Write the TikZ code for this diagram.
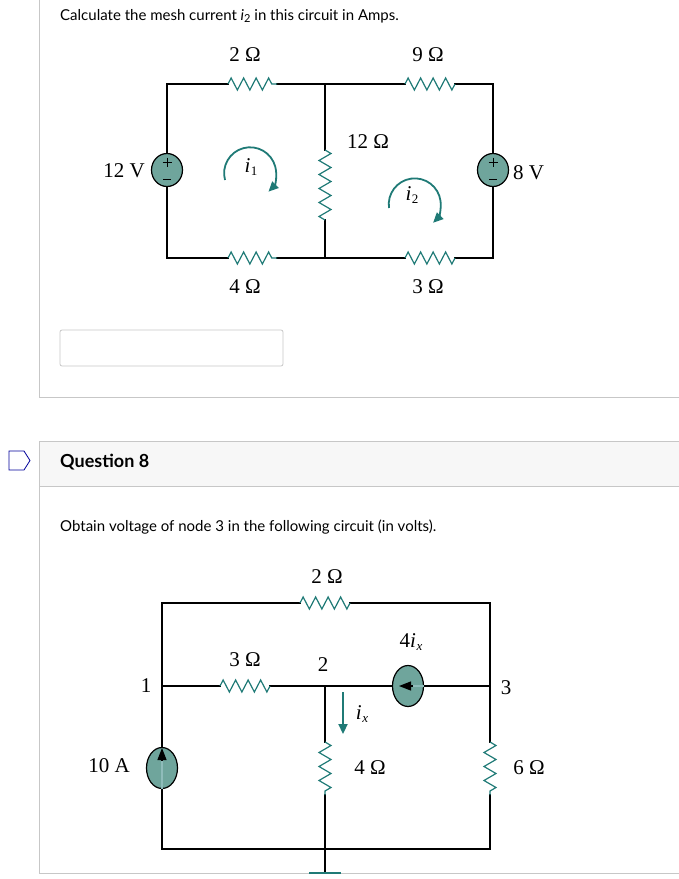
\documentclass[tikz,border=0pt]{standalone}
\usepackage{fontspec}
\setmainfont{Liberation Serif}
\newfontfamily\uisans{Lato}
\usetikzlibrary{positioning,calc,decorations.pathmorphing,arrows.meta,shapes.geometric}
\definecolor{srcteal}{HTML}{6FA59C}
\definecolor{arrteal}{HTML}{1F7A76}
\definecolor{rule}{HTML}{C7C7C7}
\newcommand{\vi}[1]{\textit{i}\kern.5pt\raisebox{-.35ex}{\fontsize{13}{13}\selectfont#1}}
\begin{document}
\begin{tikzpicture}[x=1pt,y=-1pt,
    wire/.style = {line width=1.5pt,line cap=rect},
    res/.style = {draw=arrteal,line width=1.2pt,decorate,decoration={zigzag,segment length=12.5,amplitude=6}},
    src/.style = {ellipse,draw,line width=1.2pt,fill=srcteal,minimum width=31,minimum height=36,inner sep=0pt},
    lab/.style = {font=\fontsize{21}{21}\selectfont,inner sep=1pt},
    txt/.style = {font=\uisans\fontsize{15}{16}\selectfont,anchor=west,inner sep=0pt},
    mesh/.style = {draw=arrteal,line width=1.8pt,-{Triangle[length=10pt,width=9pt]}},
    tip/.style = {-{Triangle[length=12pt,width=9pt]},line width=1.2pt,shorten >=-1pt},
    ]
    \useasboundingbox (0,0) rectangle (679,879);
    % page frame
    \draw[rule,line width=1pt] (39,0) -- (39,397) -- (679,397);
    \draw[rule,line width=1pt,fill=gray!6] (39,441) rectangle (690,486);
    \draw[rule,line width=1pt] (39,486) -- (39,873) -- (679,873);
    \draw[blue!60!black,line width=.8pt] (9,451) -- (24,451) -- (30,460.5) -- (24,470) -- (9,470) -- cycle;
    \draw[rule,line width=.8pt,rounded corners=2pt] (60,330) rectangle (283,366);
    \node[txt] (q7) at (60,16) {Calculate the mesh current \textit{i}\raisebox{-.3ex}{\fontsize{11}{11}\selectfont 2} in this circuit in Amps.};
    \node[txt,font=\uisans\bfseries\fontsize{18}{18}\selectfont] (q8) at (60,462) {Question 8};
    \node[txt] (q8t) at (60,527) {Obtain voltage of node 3 in the following circuit (in volts).};

    % top circuit
    \coordinate (TL) at (167,84);
    \coordinate (TM) at (325,84);
    \coordinate (TR) at (493,84);
    \coordinate (BL) at (167,258);
    \coordinate (BM) at (325,258);
    \coordinate (BR) at (493,258);
    \node[src,minimum height=33] (v12) at (167,170) {};
    \node[src,minimum height=33] (v8) at (493,170) {};
    \draw[wire] (v12.north) -- (TL) -- (228,84) (277,84) -- (405,84) (455,84) -- (TR) -- (v8.north);
    \draw[wire] (v12.south) -- (BL) -- (228,258) (277,258) -- (405,258) (455,258) -- (BR) -- (v8.south);
    \draw[wire] (TM) -- (325,150) (325,220) -- (BM);
    \draw[res] (228,84) -- (277,84);
    \draw[res] (405,84) -- (455,84);
    \draw[res] (228,258) -- (277,258);
    \draw[res] (405,258) -- (455,258);
    \draw[res,decoration={segment length=14}] (325,150) -- (325,220);
    \foreach \s in {v12,v8}{
      \draw[line width=.8pt] ($(\s.center)+(-4.5,-8)$) -- ($(\s.center)+(4.5,-8)$) ($(\s.center)+(0,-12.5)$) -- ($(\s.center)+(0,-3.5)$);
      \draw[line width=.8pt] ($(\s.center)+(-4,9)$) -- ($(\s.center)+(4,9)$);
    }
    \node[lab] (l2a) at (245,55) {2 Ω};
    \node[lab] (l9) at (428,55) {9 Ω};
    \node[lab] (l12r) at (368,142) {12 Ω};
    \node[lab] (l4a) at (245,287) {4 Ω};
    \node[lab] (l3a) at (428,287) {3 Ω};
    \node[lab,anchor=east] (l12v) at (146,171) {12 V};
    \node[lab,anchor=west] (l8v) at (512,173) {8 V};
    \node[lab] (i1) at (251,167) {\vi{1}};
    \node[lab] (i2) at (412,195) {\vi{2}};
    \draw[mesh] (225,180) arc (165:405:26);
    \draw[mesh] (389,208) arc (172:405:26);

    % bottom circuit
    \coordinate (n1) at (162,686);
    \coordinate (n2) at (325,686);
    \coordinate (n3) at (490,686);
    \coordinate (ul) at (162,603);
    \coordinate (ur) at (490,603);
    \coordinate (gl) at (162,849);
    \coordinate (gm) at (325,849);
    \coordinate (gr) at (490,849);
    \node[src,minimum height=41] (isrc) at (162,768) {};
    \node[src,minimum height=41] (dep) at (408,686) {};
    \draw[wire] (n1) -- (ul) -- (300,603) (350,603) -- (ur) -- (n3) -- (490,742);
    \draw[wire] (n1) -- (isrc.north) (isrc.south) -- (gl) -- (gr) -- (490,795);
    \draw[wire] (n1) -- (220,686) (270,686) -- (dep.west) (dep.east) -- (n3);
    \draw[wire] (n2) -- (325,742) (325,795) -- (gm) -- (325,873);
    \draw[wire,arrteal] (310,873) -- (340,873);
    \draw[res] (300,603) -- (350,603);
    \draw[res] (220,686) -- (270,686);
    \draw[res,decoration={segment length=14}] (325,742) -- (325,795);
    \draw[res,decoration={segment length=14}] (490,742) -- (490,795);
    \draw[arrteal!50,line width=1.5pt] (isrc.south) -- (162,760);
    \draw[tip] (162,760) -- (162,749);
    \draw[arrteal!50,line width=1.5pt] (dep.east) -- (413,686);
    \draw[tip] (413,686) -- (400,686);
    \draw[arrteal,line width=2.2pt,-{Triangle[length=10pt,width=9pt]}] (343,692) -- (343,734);
    \node[lab] (lix) at (362,714) {\vi{\textit{x}}};
    \node[lab] (l2b) at (327,577) {2 Ω};
    \node[lab] (l3b) at (245,660) {3 Ω};
    \node[lab] (ln1) at (146,686) {1};
    \node[lab] (ln2) at (323,665) {2};
    \node[lab] (ln3) at (506,688) {3};
    \node[lab] (ldep) at (411,642) {4\vi{\textit{x}}};
    \node[lab] (l4b) at (370,768) {4 Ω};
    \node[lab] (l6) at (529,768) {6 Ω};
    \node[lab,anchor=east] (l10) at (131,766) {10 A};
\end{tikzpicture}
\end{document}
